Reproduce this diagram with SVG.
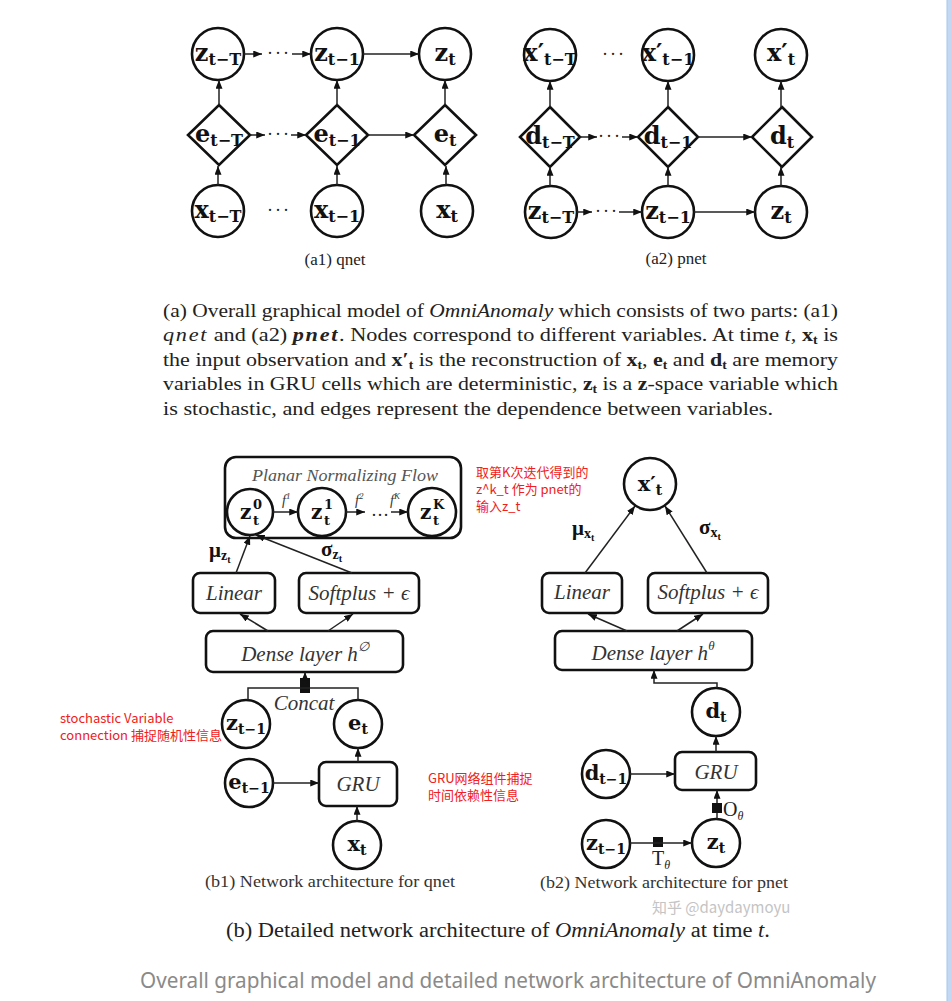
<svg xmlns="http://www.w3.org/2000/svg" width="951" height="1001" viewBox="0 0 951 1001">
<defs>
<marker id="ah" viewBox="0 0 10 8" refX="10" refY="4" markerWidth="9" markerHeight="7" markerUnits="userSpaceOnUse" orient="auto"><path d="M0,0 L10,4 L0,8 z" fill="#111"/></marker>
</defs>
<style>
.n{fill:#fff;stroke:#111;stroke-width:2.6}
.b{fill:#fff;stroke:#111;stroke-width:2.6}
.e{stroke:#222;stroke-width:1.5;fill:none}
.a{marker-end:url(#ah)}
.v{font-family:"DejaVu Serif",serif;font-weight:bold;fill:#111;text-anchor:middle}
.vl{font-size:24px}
.vs{font-size:16px}
.ml{font-size:21px}
.ms{font-size:14px}
.dots{font-family:"Liberation Serif",serif;font-size:18px;fill:#222;text-anchor:middle;letter-spacing:2px}
.it{font-family:"Liberation Serif",serif;font-style:italic}
.lab{font-family:"Liberation Serif",serif;font-style:italic;font-size:21px;fill:#333;text-anchor:middle}
.cap{font-family:"Liberation Serif",serif;fill:#222}
.sub{font-family:"Liberation Serif",serif;fill:#333;font-size:17px}
.red{font-family:"Noto Sans CJK SC","Noto Sans",sans-serif;font-size:13px;fill:#f02020}
.bd{font-weight:bold}
.gk{font-family:"Liberation Serif",serif;font-weight:bold;fill:#111}
</style>
<rect x="0" y="0" width="951" height="1001" fill="#fff"/>
<rect x="947" y="0" width="4" height="1001" fill="#c3d9f3"/>
<line x1="947" y1="0" x2="947" y2="1001" stroke="#a8c5ea" stroke-width="1"/>

<!-- (a1) qnet -->
<g id="a1-z-tT"><circle class="n" cx="218" cy="54" r="26"/><text class="v" x="218" y="61"><tspan class="vl">z</tspan><tspan class="vs" dy="4">t−T</tspan></text></g>
<g id="a1-z-t1"><circle class="n" cx="337" cy="54" r="26"/><text class="v" x="337" y="61"><tspan class="vl">z</tspan><tspan class="vs" dy="4">t−1</tspan></text></g>
<g id="a1-z-t"><circle class="n" cx="445" cy="54" r="26"/><text class="v" x="445" y="61"><tspan class="vl">z</tspan><tspan class="vs" dy="4">t</tspan></text></g>
<g id="a1-e-tT"><polygon class="n" points="219,105 250,135 219,165 188,135"/><text class="v" x="219" y="142"><tspan class="vl">e</tspan><tspan class="vs" dy="4">t−T</tspan></text></g>
<g id="a1-e-t1"><polygon class="n" points="337,105 368,135 337,165 306,135"/><text class="v" x="337" y="142"><tspan class="vl">e</tspan><tspan class="vs" dy="4">t−1</tspan></text></g>
<g id="a1-e-t"><polygon class="n" points="445,105 476,135 445,165 414,135"/><text class="v" x="445" y="142"><tspan class="vl">e</tspan><tspan class="vs" dy="4">t</tspan></text></g>
<g id="a1-x-tT"><circle class="n" cx="218" cy="211" r="26"/><text class="v" x="218" y="218"><tspan class="vl">x</tspan><tspan class="vs" dy="4">t−T</tspan></text></g>
<g id="a1-x-t1"><circle class="n" cx="337" cy="211" r="26"/><text class="v" x="337" y="218"><tspan class="vl">x</tspan><tspan class="vs" dy="4">t−1</tspan></text></g>
<g id="a1-x-t"><circle class="n" cx="447" cy="211" r="26"/><text class="v" x="447" y="218"><tspan class="vl">x</tspan><tspan class="vs" dy="4">t</tspan></text></g>
<text class="dots" x="279" y="59">···</text>
<text class="dots" x="279" y="140">···</text>
<text class="dots" x="279" y="216">···</text>
<text class="cap" x="335" y="265" font-size="17" text-anchor="middle" fill="#333">(a1) qnet</text>

<!-- (a2) pnet -->
<g id="a2-x-tT"><circle class="n" cx="550" cy="55" r="26"/><text class="v" x="550" y="61"><tspan class="vl">x′</tspan><tspan class="vs" dy="4">t−T</tspan></text></g>
<g id="a2-x-t1"><circle class="n" cx="668" cy="55" r="26"/><text class="v" x="668" y="61"><tspan class="vl">x′</tspan><tspan class="vs" dy="4">t−1</tspan></text></g>
<g id="a2-x-t"><circle class="n" cx="781" cy="55" r="26"/><text class="v" x="781" y="61"><tspan class="vl">x′</tspan><tspan class="vs" dy="4">t</tspan></text></g>
<g id="a2-d-tT"><polygon class="n" points="550,107 580,137 550,167 520,137"/><text class="v" x="550" y="144"><tspan class="vl">d</tspan><tspan class="vs" dy="4">t−T</tspan></text></g>
<g id="a2-d-t1"><polygon class="n" points="668,107 698,137 668,167 638,137"/><text class="v" x="668" y="144"><tspan class="vl">d</tspan><tspan class="vs" dy="4">t−1</tspan></text></g>
<g id="a2-d-t"><polygon class="n" points="782,107 812,137 782,167 752,137"/><text class="v" x="782" y="144"><tspan class="vl">d</tspan><tspan class="vs" dy="4">t</tspan></text></g>
<g id="a2-z-tT"><circle class="n" cx="551" cy="212" r="26"/><text class="v" x="551" y="219"><tspan class="vl">z</tspan><tspan class="vs" dy="4">t−T</tspan></text></g>
<g id="a2-z-t1"><circle class="n" cx="668" cy="212" r="26"/><text class="v" x="668" y="219"><tspan class="vl">z</tspan><tspan class="vs" dy="4">t−1</tspan></text></g>
<g id="a2-z-t"><circle class="n" cx="781" cy="212" r="26"/><text class="v" x="781" y="219"><tspan class="vl">z</tspan><tspan class="vs" dy="4">t</tspan></text></g>
<text class="dots" x="614" y="60">···</text>
<text class="dots" x="610" y="142">···</text>
<text class="dots" x="607" y="217">···</text>
<text class="cap" x="676" y="264" font-size="17" text-anchor="middle" fill="#333">(a2) pnet</text>

<!-- caption (a) -->
<g id="caption-a" class="cap" font-size="19.5">
<text x="163" y="317" textLength="675" lengthAdjust="spacingAndGlyphs">(a)  Overall graphical model of <tspan class="it">OmniAnomaly</tspan> which consists of two parts: (a1)</text>
<text x="163" y="341" textLength="675" lengthAdjust="spacingAndGlyphs"><tspan class="it" letter-spacing="1.5">qnet</tspan> and (a2) <tspan class="it bd" letter-spacing="1.5">pnet</tspan>. Nodes correspond to different variables. At time <tspan class="it">t</tspan>, <tspan class="bd">x</tspan><tspan class="bd" font-size="12" dy="3">t</tspan><tspan dy="-3"> is</tspan></text>
<text x="163" y="366" textLength="675" lengthAdjust="spacingAndGlyphs">the input observation and <tspan class="bd">x′</tspan><tspan class="bd" font-size="12" dy="3">t</tspan><tspan dy="-3"> is the reconstruction of </tspan><tspan class="bd">x</tspan><tspan class="bd" font-size="12" dy="3">t</tspan><tspan dy="-3">, </tspan><tspan class="bd">e</tspan><tspan class="bd" font-size="12" dy="3">t</tspan><tspan dy="-3"> and </tspan><tspan class="bd">d</tspan><tspan class="bd" font-size="12" dy="3">t</tspan><tspan dy="-3"> are memory</tspan></text>
<text x="163" y="390" textLength="675" lengthAdjust="spacingAndGlyphs">variables in GRU cells which are deterministic, <tspan class="bd">z</tspan><tspan class="bd" font-size="12" dy="3">t</tspan><tspan dy="-3"> is a </tspan><tspan class="bd">z</tspan>-space variable which</text>
<text x="163" y="415" textLength="610" lengthAdjust="spacingAndGlyphs">is stochastic, and edges represent the dependence between variables.</text>
</g>

<!-- (b1) -->
<g id="b1-pnf"><rect class="b" x="225" y="457" width="236" height="81" rx="11"/><text class="it" x="345" y="481" font-size="17" fill="#555" text-anchor="middle" textLength="186" lengthAdjust="spacingAndGlyphs">Planar Normalizing Flow</text></g>
<g id="b1-z0"><circle class="n" cx="250" cy="512" r="23"/><text class="v" style="text-anchor:start" x="240" y="519" font-size="20">z</text><text class="v" style="text-anchor:start" x="253" y="509" font-size="13">0</text><text class="v" style="text-anchor:start" x="253" y="525" font-size="13">t</text></g>
<g id="b1-z1"><circle class="n" cx="322" cy="512" r="24"/><text class="v" style="text-anchor:start" x="311" y="519" font-size="20">z</text><text class="v" style="text-anchor:start" x="324" y="509" font-size="13">1</text><text class="v" style="text-anchor:start" x="324" y="525" font-size="13">t</text></g>
<g id="b1-zK"><circle class="n" cx="432" cy="512" r="24"/><text class="v" style="text-anchor:start" x="420" y="519" font-size="20">z</text><text class="v" style="text-anchor:start" x="433" y="509" font-size="13">K</text><text class="v" style="text-anchor:start" x="433" y="525" font-size="13">t</text></g>
<text class="it" x="282" y="505" font-size="14" fill="#333">f<tspan font-size="9" dy="-6">1</tspan></text>
<text class="it" x="355" y="505" font-size="14" fill="#333">f<tspan font-size="9" dy="-6">2</tspan></text>
<text class="it" x="390" y="505" font-size="14" fill="#333">f<tspan font-size="9" dy="-6">K</tspan></text>
<text class="dots" x="381" y="516" font-size="16">…</text>
<g id="b1-linear"><rect class="b" x="193" y="573" width="82" height="40" rx="7"/><text class="lab" x="234" y="600">Linear</text></g>
<g id="b1-softplus"><rect class="b" x="299" y="573" width="120" height="40" rx="7"/><text class="lab" x="359" y="600">Softplus + ϵ</text></g>
<g id="b1-dense"><rect class="b" x="206" y="631" width="197" height="41" rx="7"/><text class="lab" x="305" y="661">Dense layer h<tspan font-size="13" dy="-10">∅</tspan></text></g>
<text class="gk" x="209" y="557" font-size="21">μ<tspan font-size="14" dy="3">z</tspan><tspan font-size="10" dy="3">t</tspan></text>
<text class="gk" x="321" y="556" font-size="21">σ<tspan font-size="14" dy="3">z</tspan><tspan font-size="10" dy="3">t</tspan></text>
<rect id="b1-concat" x="300" y="678" width="10" height="15" fill="#111"/>
<text class="lab" x="304" y="710" font-size="19">Concat</text>
<g id="b1-z-t1"><circle class="n" cx="246" cy="724" r="24"/><text class="v" x="246" y="730"><tspan class="ml">z</tspan><tspan class="ms" dy="4">t−1</tspan></text></g>
<g id="b1-e-t"><circle class="n" cx="358" cy="724" r="24"/><text class="v" x="358" y="730"><tspan class="ml">e</tspan><tspan class="ms" dy="4">t</tspan></text></g>
<g id="b1-e-t1"><circle class="n" cx="249" cy="783" r="24"/><text class="v" x="249" y="789"><tspan class="ml">e</tspan><tspan class="ms" dy="4">t−1</tspan></text></g>
<g id="b1-gru"><rect class="b" x="319" y="762" width="78" height="44" rx="7"/><text class="lab" x="358" y="791">GRU</text></g>
<g id="b1-x-t"><circle class="n" cx="357" cy="845" r="24"/><text class="v" x="357" y="851"><tspan class="ml">x</tspan><tspan class="ms" dy="4">t</tspan></text></g>
<text class="sub" x="205" y="887" textLength="250" lengthAdjust="spacingAndGlyphs">(b1) Network architecture  for qnet</text>

<!-- (b2) -->
<g id="b2-x-t"><circle class="n" cx="650" cy="484" r="26"/><text class="v" x="650" y="491"><tspan class="ml">x′</tspan><tspan class="ms" dy="4">t</tspan></text></g>
<text class="gk" x="572" y="535" font-size="21">μ<tspan font-size="14" dy="3">x</tspan><tspan font-size="10" dy="3">t</tspan></text>
<text class="gk" x="699" y="534" font-size="21">σ<tspan font-size="14" dy="3">x</tspan><tspan font-size="10" dy="3">t</tspan></text>
<g id="b2-linear"><rect class="b" x="542" y="573" width="80" height="40" rx="7"/><text class="lab" x="582" y="599">Linear</text></g>
<g id="b2-softplus"><rect class="b" x="648" y="573" width="120" height="40" rx="7"/><text class="lab" x="708" y="599">Softplus + ϵ</text></g>
<g id="b2-dense"><rect class="b" x="555" y="631" width="197" height="39" rx="7"/><text class="lab" x="653" y="660">Dense layer h<tspan font-size="13" dy="-10">θ</tspan></text></g>
<g id="b2-d-t"><circle class="n" cx="716" cy="712" r="24"/><text class="v" x="716" y="718"><tspan class="ml">d</tspan><tspan class="ms" dy="4">t</tspan></text></g>
<g id="b2-gru"><rect class="b" x="675" y="752" width="81" height="38" rx="7"/><text class="lab" x="716" y="779">GRU</text></g>
<g id="b2-d-t1"><circle class="n" cx="606" cy="774" r="24"/><text class="v" x="606" y="780"><tspan class="ml">d</tspan><tspan class="ms" dy="4">t−1</tspan></text></g>
<g id="b2-z-t1"><circle class="n" cx="606" cy="844" r="24"/><text class="v" x="606" y="850"><tspan class="ml">z</tspan><tspan class="ms" dy="4">t−1</tspan></text></g>
<g id="b2-z-t"><circle class="n" cx="716" cy="843" r="24"/><text class="v" x="716" y="849"><tspan class="ml">z</tspan><tspan class="ms" dy="4">t</tspan></text></g>
<rect id="b2-O" x="712" y="803" width="10" height="10" fill="#111"/>
<text x="723" y="816" font-family="Liberation Serif,serif" font-size="20" fill="#222">O<tspan class="it" font-size="12" dy="4">θ</tspan></text>
<rect id="b2-T" x="653" y="837" width="10" height="10" fill="#111"/>
<text x="652" y="865" font-family="Liberation Serif,serif" font-size="20" fill="#222">T<tspan class="it" font-size="12" dy="4">θ</tspan></text>
<text class="sub" x="540" y="888" textLength="248" lengthAdjust="spacingAndGlyphs">(b2) Network architecture  for pnet</text>

<!-- connectors -->
<g id="connectors" class="e">
<line class="a" x1="244" y1="54" x2="262" y2="54"/>
<line class="a" x1="292" y1="54" x2="311" y2="54"/>
<line class="a" x1="363" y1="54" x2="419" y2="54"/>
<line class="a" x1="250" y1="135" x2="265" y2="135"/>
<line class="a" x1="291" y1="135" x2="306" y2="135"/>
<line class="a" x1="368" y1="135" x2="414" y2="135"/>
<line class="a" x1="218" y1="185" x2="218" y2="166"/>
<line class="a" x1="337" y1="185" x2="337" y2="166"/>
<line class="a" x1="446" y1="185" x2="446" y2="166"/>
<line class="a" x1="219" y1="105" x2="219" y2="80"/>
<line class="a" x1="337" y1="105" x2="337" y2="80"/>
<line class="a" x1="445" y1="105" x2="445" y2="80"/>
<line class="a" x1="580" y1="137" x2="597" y2="137"/>
<line class="a" x1="622" y1="137" x2="638" y2="137"/>
<line class="a" x1="698" y1="137" x2="752" y2="137"/>
<line class="a" x1="577" y1="212" x2="592" y2="212"/>
<line class="a" x1="619" y1="212" x2="642" y2="212"/>
<line class="a" x1="694" y1="212" x2="755" y2="212"/>
<line class="a" x1="550" y1="186" x2="550" y2="167"/>
<line class="a" x1="668" y1="186" x2="668" y2="167"/>
<line class="a" x1="781" y1="186" x2="781" y2="167"/>
<line class="a" x1="550" y1="107" x2="550" y2="81"/>
<line class="a" x1="668" y1="107" x2="668" y2="81"/>
<line class="a" x1="781" y1="107" x2="781" y2="81"/>
<line class="a" x1="273" y1="512" x2="298" y2="512"/>
<line class="a" x1="346" y1="512" x2="365" y2="512"/>
<line class="a" x1="391" y1="512" x2="408" y2="512"/>
<line class="a" x1="236" y1="573" x2="250" y2="536"/>
<line class="a" x1="352" y1="573" x2="256" y2="535"/>
<line class="a" x1="268" y1="631" x2="240" y2="614"/>
<line class="a" x1="328" y1="631" x2="353" y2="614"/>
<line class="a" x1="305" y1="678" x2="305" y2="672"/>
<polyline points="248,700 248,688 358,688 358,700"/>
<line class="a" x1="273" y1="783" x2="319" y2="783"/>
<line class="a" x1="358" y1="762" x2="358" y2="748"/>
<line class="a" x1="357" y1="821" x2="357" y2="806"/>
<line class="a" x1="585" y1="573" x2="635" y2="506"/>
<line class="a" x1="707" y1="573" x2="665" y2="506"/>
<line class="a" x1="627" y1="631" x2="588" y2="614"/>
<line class="a" x1="677" y1="631" x2="703" y2="614"/>
<polyline class="a" points="717,688 717,683 654,683 654,670"/>
<line class="a" x1="630" y1="774" x2="675" y2="774"/>
<line class="a" x1="716" y1="752" x2="716" y2="736"/>
<line x1="717" y1="819" x2="717" y2="813"/>
<line class="a" x1="717" y1="803" x2="717" y2="790"/>
<line class="a" x1="630" y1="843" x2="692" y2="843"/>
</g>

<!-- annotations -->
<text class="red" x="476" y="477">取第K次迭代得到的<tspan x="476" dy="17">z^k_t 作为 pnet的</tspan><tspan x="476" dy="17">输入z_t</tspan></text>
<text class="red" x="60" y="723">stochastic Variable<tspan x="60" dy="17">connection 捕捉随机性信息</tspan></text>
<text class="red" x="428" y="783">GRU网络组件捕捉<tspan x="428" dy="17">时间依赖性信息</tspan></text>

<!-- caption (b) -->
<text x="652" y="913" font-family="Noto Sans CJK SC,Noto Sans,sans-serif" font-size="15" fill="#c4c4c4">知乎 @daydaymoyu</text>
<text class="cap" x="226" y="937" font-size="20" textLength="544" lengthAdjust="spacingAndGlyphs">(b)  Detailed network architecture of <tspan class="it">OmniAnomaly</tspan> at time <tspan class="it">t</tspan>.</text>
<text x="140" y="988" font-family="Noto Sans,Open Sans,sans-serif" font-size="21" fill="#8a8a8a" textLength="736" lengthAdjust="spacingAndGlyphs">Overall graphical model and detailed network architecture of OmniAnomaly</text>
</svg>
